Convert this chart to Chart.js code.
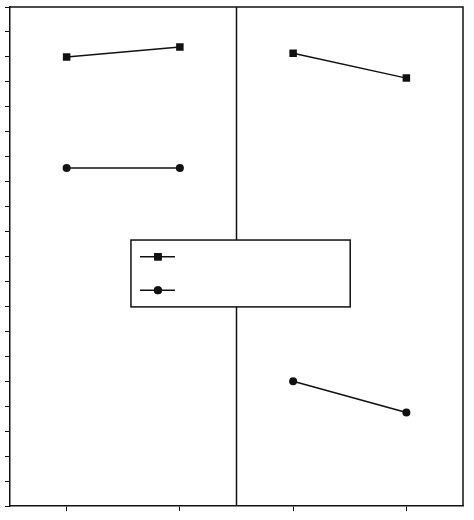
<!DOCTYPE html>
<html>
<head>
<meta charset="utf-8">
<script src="https://cdn.jsdelivr.net/npm/chart.js@4.4.0/dist/chart.umd.min.js"></script>
<style>
  html, body { margin: 0; padding: 0; background: #fff; }
  #wrap { width: 474px; height: 520px; }
</style>
</head>
<body>
<div id="wrap"><canvas id="chart"></canvas></div>
<script>
// four conditions, two per panel; the divider sits between index 1 and 2
const categories = ['A1', 'A2', 'B1', 'B2'];
const squareValues = [18.0, 18.4, 18.15, 17.15];
const circleValues = [13.55, 13.55, 5.0, 3.75];
const yMin = 0;
const yMax = 20;
const yStep = 1;

const ink = '#111';

// hide the segment that would join the two panels
const panelBreak = ctx => ctx.p0DataIndex === 1 ? 'rgba(0,0,0,0)' : ink;

const framePlugin = {
    id: 'frame',
    beforeDatasetsDraw(chart) {
        const { ctx, chartArea: a } = chart;
        ctx.save();
        ctx.strokeStyle = ink;
        ctx.lineWidth = 1.5;
        ctx.beginPath();
        ctx.moveTo(a.left, a.top);
        ctx.lineTo(a.right, a.top);
        ctx.lineTo(a.right, a.bottom);
        const mid = (a.left + a.right) / 2;
        ctx.moveTo(mid, a.top);
        ctx.lineTo(mid, a.bottom);
        ctx.stroke();
        ctx.restore();
    }
};

const boxLegendPlugin = {
    id: 'boxLegend',
    afterDatasetsDraw(chart) {
        const { ctx, chartArea: a } = chart;
        const w = a.right - a.left;
        const h = a.bottom - a.top;
        const x0 = a.left + 0.267 * w;
        const x1 = a.left + 0.751 * w;
        const y0 = a.top + 0.467 * h;
        const y1 = a.top + 0.601 * h;
        ctx.save();
        ctx.fillStyle = '#fff';
        ctx.fillRect(x0, y0, x1 - x0, y1 - y0);
        ctx.strokeStyle = ink;
        ctx.lineWidth = 1.5;
        ctx.strokeRect(x0, y0, x1 - x0, y1 - y0);
        const rows = [y0 + 0.25 * (y1 - y0), y0 + 0.75 * (y1 - y0)];
        chart.data.datasets.forEach((ds, i) => {
            const y = rows[i];
            const lx0 = x0 + 9;
            const lx1 = x0 + 44;
            ctx.strokeStyle = ink;
            ctx.lineWidth = 1.5;
            ctx.beginPath();
            ctx.moveTo(lx0, y);
            ctx.lineTo(lx1, y);
            ctx.stroke();
            ctx.fillStyle = ink;
            Chart.helpers.drawPoint(ctx, {
                pointStyle: ds.pointStyle,
                radius: ds.pointRadius,
                borderWidth: 0
            }, x0 + 27, y);
            ctx.fill();
        });
        ctx.restore();
    }
};

new Chart(document.getElementById('chart'), {
    type: 'line',
    data: {
        labels: categories,
        datasets: [
            {
                label: 'square',
                data: squareValues,
                borderColor: ink,
                borderWidth: 1.5,
                pointStyle: 'rect',
                pointRadius: 5.3,
                pointBackgroundColor: ink,
                pointBorderColor: ink,
                pointBorderWidth: 0,
                tension: 0,
                segment: { borderColor: panelBreak }
            },
            {
                label: 'circle',
                data: circleValues,
                borderColor: ink,
                borderWidth: 1.5,
                pointStyle: 'circle',
                pointRadius: 4,
                pointBackgroundColor: ink,
                pointBorderColor: ink,
                pointBorderWidth: 0,
                tension: 0,
                segment: { borderColor: panelBreak }
            }
        ]
    },
    options: {
        responsive: true,
        maintainAspectRatio: false,
        animation: false,
        layout: { padding: { left: 5, top: 7, right: 11, bottom: 9 } },
        plugins: {
            legend: { display: false },
            tooltip: { enabled: false }
        },
        scales: {
            x: {
                type: 'category',
                offset: true,
                grid: {
                    offset: false,
                    drawOnChartArea: false,
                    drawTicks: true,
                    tickLength: 5,
                    color: ink,
                    lineWidth: 1
                },
                border: { display: true, color: ink, width: 1.5 },
                ticks: { display: false }
            },
            y: {
                min: yMin,
                max: yMax,
                grid: {
                    drawOnChartArea: false,
                    drawTicks: true,
                    tickLength: 5,
                    color: ink,
                    lineWidth: 1
                },
                border: { display: true, color: ink, width: 1.5 },
                ticks: { display: false, stepSize: yStep }
            }
        }
    },
    plugins: [framePlugin, boxLegendPlugin]
});
</script>
</body>
</html>
